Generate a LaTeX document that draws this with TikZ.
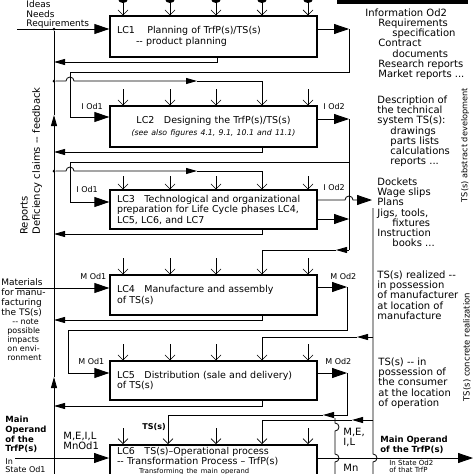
\documentclass[tikz,border=0pt]{standalone}
\usepackage{fontspec}
\setmainfont{DejaVu Sans}
\usetikzlibrary{arrows.meta}

\begin{document}
\begin{tikzpicture}
[x=1pt,y=-1pt,line width=0.8pt,font=\fontsize{9.5}{10.5}\selectfont,
 lcbox/.style={draw,line width=1.3pt,minimum width=207pt,text width=193pt,align=left,inner sep=0pt},
 big/.style={-{Triangle[length=15pt,width=10pt]}},
 small/.style={-{Triangle[length=11pt,width=6pt]}},
 feed/.style={-{Straight Barb[length=5pt,width=10pt,line width=0.6pt]}},
 lab/.style={anchor=west,inner sep=0pt,font=\fontsize{8}{9}\selectfont},
 note/.style={anchor=north west,inner sep=0pt,align=left,font=\fontsize{10}{10.1}\selectfont},
 dot/.style={circle,fill,inner sep=0pt,minimum size=3pt}]

\path[use as bounding box,clip] (0,0) rectangle (474,474);

\node[lcbox,minimum height=41pt] (lc1) at (213.5,36.5)
  {LC1\hspace{1.3em}Planning of TrfP(s)/TS(s)\\\hspace*{2em}-{}- product planning};
\node[lcbox,minimum height=41pt,align=center] (lc2) at (213.5,126.5)
  {LC2\hspace{1em}Designing the TrfP(s)/TS(s)\\[2pt]{\fontsize{7.8}{9}\selectfont\itshape (see also figures 4.1, 9.1, 10.1 and 11.1)}};
\node[lcbox,minimum height=39pt] (lc3) at (213.5,209.5)
  {LC3\hspace{1em}Technological and organizational\\preparation for Life Cycle phases LC4,\\LC5, LC6, and LC7};
\node[lcbox,minimum height=40pt] (lc4) at (213.5,295)
  {LC4\hspace{1em}Manufacture and assembly\\of TS(s)};
\node[lcbox,minimum height=39pt] (lc5) at (213.5,380.5)
  {LC5\hspace{1em}Distribution (sale and delivery)\\of TS(s)};
\node[lcbox,minimum height=32pt,line width=2pt] (lc6) at (213.5,461)
  {LC6\hspace{1em}TS(s)--Operational process\\-{}- Transformation Process -- TrfP(s)\\[-1.5pt]\hspace*{22pt}{\fontsize{6.8}{7.5}\selectfont Transforming the main operand}};

\coordinate (ideas) at (17,29);
\coordinate (materials) at (15,288);
\coordinate (mainin) at (15,458);
\coordinate (mainout) at (473,458);

\node[dot] (j1) at (54,29) {};
\node[dot] (j2) at (54,81) {};
\node[dot] (j3) at (54,171) {};

\foreach \x in {123,170,216,262,308} {
  \fill (\x,-1) ellipse (5pt and 4pt);
  \draw[feed] (\x,0) -- (lc1.north -| \x,0);
}
\foreach \x in {123,170,216,308} {
  \draw[feed] (\x,89) -- (lc2.north -| \x,0);
  \draw[feed] (\x,176) -- (lc3.north -| \x,0);
  \draw[feed] (\x,258) -- (lc4.north -| \x,0);
  \draw[feed] (\x,344) -- (lc5.north -| \x,0);
}
\foreach \x in {123,216,308}
  \draw[feed] (\x,428) -- (lc6.north -| \x,0);
\fill (337,0) rectangle (468,3.5);

% inputs and outputs
\draw[big] (ideas) -- (lc1.west |- ideas);
\draw[big] (lc1.east |- 0,29) -- (349,29);
\draw[big] (349,29) -- (349,72) -| (70,117) -- (lc2.west |- 0,117);
\draw[big] (lc2.east |- 0,119) -- (349,119);
\draw (349,119) -- (349,250);
\draw[big] (349,162) -| (70,202) -- (lc3.west |- 0,202);
\draw[big] (lc3.east |- 0,200) -- (345,200) arc[start angle=180,end angle=0,radius=4pt] -- (372,200);
\draw[big] (lc3.east |- 0,219) -- (349,219);
\draw[small] (349,250) -- (336,250);
\draw[feed] (336,250) -| (lc4.north -| 262,0);
\draw[big] (materials) -- (lc4.west |- materials);
\draw[big] (lc4.east |- 0,287) -- (347,287);
\draw[big] (347,287) |- (68,330) |- (lc5.west |- 0,373);
\draw[big] (lc5.east |- 0,373) -- (347,373);
\draw[small] (347,373) |- (323,415);
\draw[feed] (323,415) -| (lc6.north -| 168,0);
\draw[big] (mainin) -- (lc6.west |- mainin);
\draw[big] (lc6.east |- mainin) -- (mainout);

% realization
\draw (373,208) -- (373,454) arc[start angle=90,end angle=-90,radius=4pt] -- (373,474);
\draw[small] (373,337) -- (357,337);
\draw[feed] (357,337) -| (lc5.north -| 262,0);
\draw[small] (373,420) -- (352,420);
\draw[feed] (352,420) -| (lc6.north -| 262,0);
\draw (335,418) -- (335,423) arc[start angle=90,end angle=-90,radius=4pt]
  -- (335,454) arc[start angle=90,end angle=-90,radius=4pt] -- (335,474);

% feedback
\draw[small] (54,474) -- (54,377);
\draw[small] (54,377) -- (54,115);
\draw (54,115) -- (j1);
\draw[small] (lc1.south -| 217,0) |- (54,62);
\draw[small] (lc2.south -| 262,0) |- (54,152);
\draw[small] (lc3.south -| 262,0) |- (54,234);
\draw[small] (lc4.south -| 262,0) |- (54,320);
\draw[small] (lc5.south -| 262,0) |- (54,406);
\draw[small] (j2) -- (66,81) arc[start angle=180,end angle=0,radius=4pt] -- (197,81);
\draw[feed] (197,81) -| (lc2.north -| 262,0);
\draw[small] (j3) -- (66,171) arc[start angle=180,end angle=0,radius=4pt] -- (197,171);
\draw[feed] (197,171) -| (lc3.north -| 262,0);

% labels
\node[lab] (i11) at (81,107) {I Od1};
\node[lab] (i12) at (323,107) {I Od2};
\node[lab] (i21) at (76,190) {I Od1};
\node[lab] (i22) at (323,188) {I Od2};
\node[lab] (m11) at (80,277) {M Od1};
\node[lab] (m12) at (330,277) {M Od2};
\node[lab] (m21) at (78,362) {M Od1};
\node[lab] (m22) at (325,362) {M Od2};
\node[note] (meil) at (63,432) {M,E,I,L\\MnOd1};
\node[note,font=\fontsize{8}{9}\selectfont\bfseries] (tss) at (142,423) {TS(s)};
\node[note] (meil2) at (343,428) {M,E,\\I,L};
\node[note] (mn) at (343,464) {Mn};

\node[note,font=\fontsize{9}{9.6}\selectfont] (needs) at (26,0.5) {Ideas\\Needs\\Requirements};
\node[note,font=\fontsize{9}{10}\selectfont] (mat) at (1,278) {Materials\\for manu-\\facturing\\the TS(s)};
\node[note,font=\fontsize{8}{9}\selectfont] (impacts) at (7,318) {\hspace*{5pt}-{}- note\\possible\\impacts\\on envi-\\ronment};
\node[note,font=\fontsize{8.5}{9.7}\selectfont\bfseries] (opin) at (5,416) {Main\\Operand\\of the\\TrfP(s)};
\node[note,font=\fontsize{8}{8.6}\selectfont] (statein) at (5,458) {In\\State Od1};
\node[note,font=\fontsize{8.5}{9.7}\selectfont\bfseries] (opout) at (380,436) {Main Operand\\of the TrfP(s)};
\node[note,font=\fontsize{7}{7}\selectfont] (stateout) at (389,459.5) {In State Od2\\of that TrfP};

\node[rotate=90,anchor=west,inner sep=0pt,font=\fontsize{10}{10}\selectfont] (reports) at (25,235) {Reports};
\node[rotate=90,anchor=west,inner sep=0pt,font=\fontsize{10}{10}\selectfont] (claims) at (37,235) {Deficiency claims -{}- feedback};
\node[rotate=90,font=\fontsize{8.2}{9}\selectfont] (absdev) at (465,145) {TS(s) abstract development};
\node[rotate=90,font=\fontsize{8.5}{9}\selectfont] (conreal) at (467,347) {TS(s) concrete realization};

\node[note] (info) at (365,8.7) {Information Od2\\\hspace*{13pt}Requirements\\\hspace*{27pt}specification\\\hspace*{13pt}Contract\\\hspace*{27pt}documents\\\hspace*{13pt}Research reports\\\hspace*{13pt}Market reports ...};
\node[note] (descr) at (377,95.7) {Description of\\the technical\\system TS(s):\\\hspace*{13pt}drawings\\\hspace*{13pt}parts lists\\\hspace*{13pt}calculations\\\hspace*{13pt}reports ...};
\node[note] (dockets) at (377,177.7) {Dockets\\Wage slips\\Plans\\Jigs, tools,\\\hspace*{15pt}fixtures\\Instruction\\\hspace*{15pt}books ...};
\node[note] (realized) at (377,270.7) {TS(s) realized -{}-\\in possession\\of manufacturer\\at location of\\manufacture};
\node[note] (consumer) at (378,357.7) {TS(s) -{}- in\\possession of\\the consumer\\at the location\\of operation};
\end{tikzpicture}
\end{document}
